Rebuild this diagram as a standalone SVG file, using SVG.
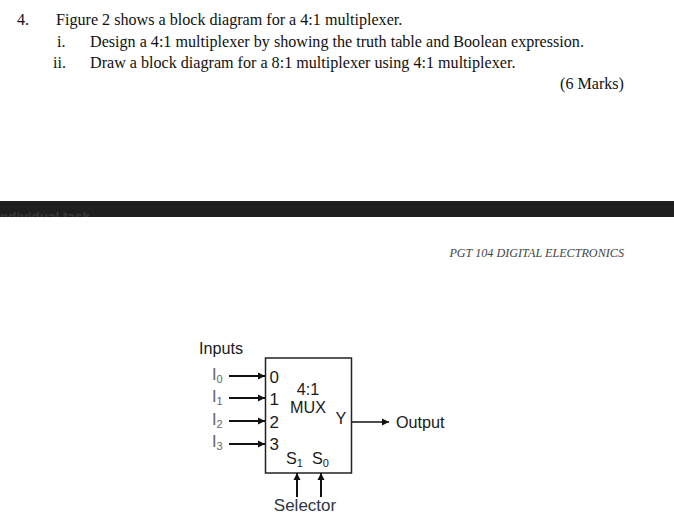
<svg xmlns="http://www.w3.org/2000/svg" width="674" height="524" viewBox="0 0 674 524">
<defs>
<style>
.t{font-family:"Liberation Serif",serif;font-size:16.130px;fill:#111}
.s{font-family:"Liberation Sans",Arial,sans-serif;font-size:16.200px;fill:#1a1a1a}
.n{font-family:"Liberation Sans",Arial,sans-serif;font-size:17px;fill:#1a1a1a}
.g{font-family:"Liberation Sans",Arial,sans-serif;font-size:16.500px;fill:#666}
.sub{font-size:11px}
.c{stroke:#111;stroke-width:2;fill:none}
.h{fill:#111}
</style>
<clipPath id="bandclip"><rect x="0" y="201" width="674" height="16"/></clipPath>
<marker id="a" markerUnits="userSpaceOnUse" markerWidth="8" markerHeight="8" refX="7" refY="4" orient="auto"><path class="h" d="M0 0.5L7 4L0 7.5Z"/></marker>
</defs>
<rect width="674" height="524" fill="#fff"/>
<g id="question">
<text class="t" x="17" y="25">4.</text>
<text class="t" x="56" y="25">Figure 2 shows a block diagram for a 4:1 multiplexer.</text>
<text class="t" x="57" y="47">i.</text>
<text class="t" x="90" y="47">Design a 4:1 multiplexer by showing the truth table and Boolean expression.</text>
<text class="t" x="53" y="68">ii.</text>
<text class="t" x="90" y="68">Draw a block diagram for a 8:1 multiplexer using 4:1 multiplexer.</text>
<text class="t" x="624" y="89" text-anchor="end">(6 Marks)</text>
</g>
<g id="band">
<rect x="0" y="201" width="674" height="16" fill="#1f1f1f"/>
<text x="0" y="221" clip-path="url(#bandclip)" font-family="Liberation Sans,Arial,sans-serif" font-size="13.500" font-weight="bold" fill="#383838">ndividual task</text>
</g>
<text x="624" y="257" text-anchor="end" font-family="Liberation Serif,serif" font-style="italic" font-size="12.160" fill="#444">PGT 104 DIGITAL ELECTRONICS</text>
<g id="mux">
<rect x="265.500" y="358" width="86" height="115" fill="#fff" stroke="#222" stroke-width="1.500"/>
<text class="s" x="308" y="395" text-anchor="middle">4:1</text>
<text class="s" x="308" y="413" text-anchor="middle">MUX</text>
<text class="s" x="341" y="424" text-anchor="middle">Y</text>
<text class="n" x="269.500" y="383">0</text>
<text class="n" x="269.500" y="405">1</text>
<text class="n" x="269.500" y="428">2</text>
<text class="n" x="269.500" y="450">3</text>
<text class="s" x="286" y="464">S<tspan class="sub" dy="3">1</tspan></text>
<text class="s" x="312" y="464">S<tspan class="sub" dy="3">0</tspan></text>
</g>
<g id="inputs">
<text class="s" x="199" y="354">Inputs</text>
<text class="g" x="212" y="380">I<tspan class="sub" dy="3">0</tspan></text>
<text class="g" x="212" y="402">I<tspan class="sub" dy="3">1</tspan></text>
<text class="g" x="212" y="425">I<tspan class="sub" dy="3">2</tspan></text>
<text class="g" x="212" y="447">I<tspan class="sub" dy="3">3</tspan></text>
</g>
<g id="output"><text class="s" x="396" y="428">Output</text></g>
<g id="selector"><text x="305" y="511" text-anchor="middle" font-family="Liberation Sans,Arial,sans-serif" font-size="17" fill="#2c3644">Selector</text></g>
<g id="connectors">
<path class="c" marker-end="url(#a)" d="M229 376H265"/>
<path class="c" marker-end="url(#a)" d="M229 398H265"/>
<path class="c" marker-end="url(#a)" d="M229 421H265"/>
<path class="c" marker-end="url(#a)" d="M229 444H265"/>
<path class="c" style="stroke-width:1.500" marker-end="url(#a)" d="M352 422H389"/>
<path class="c" marker-end="url(#a)" d="M297 497V473"/>
<path class="c" marker-end="url(#a)" d="M321 497V473"/>
</g>
</svg>
